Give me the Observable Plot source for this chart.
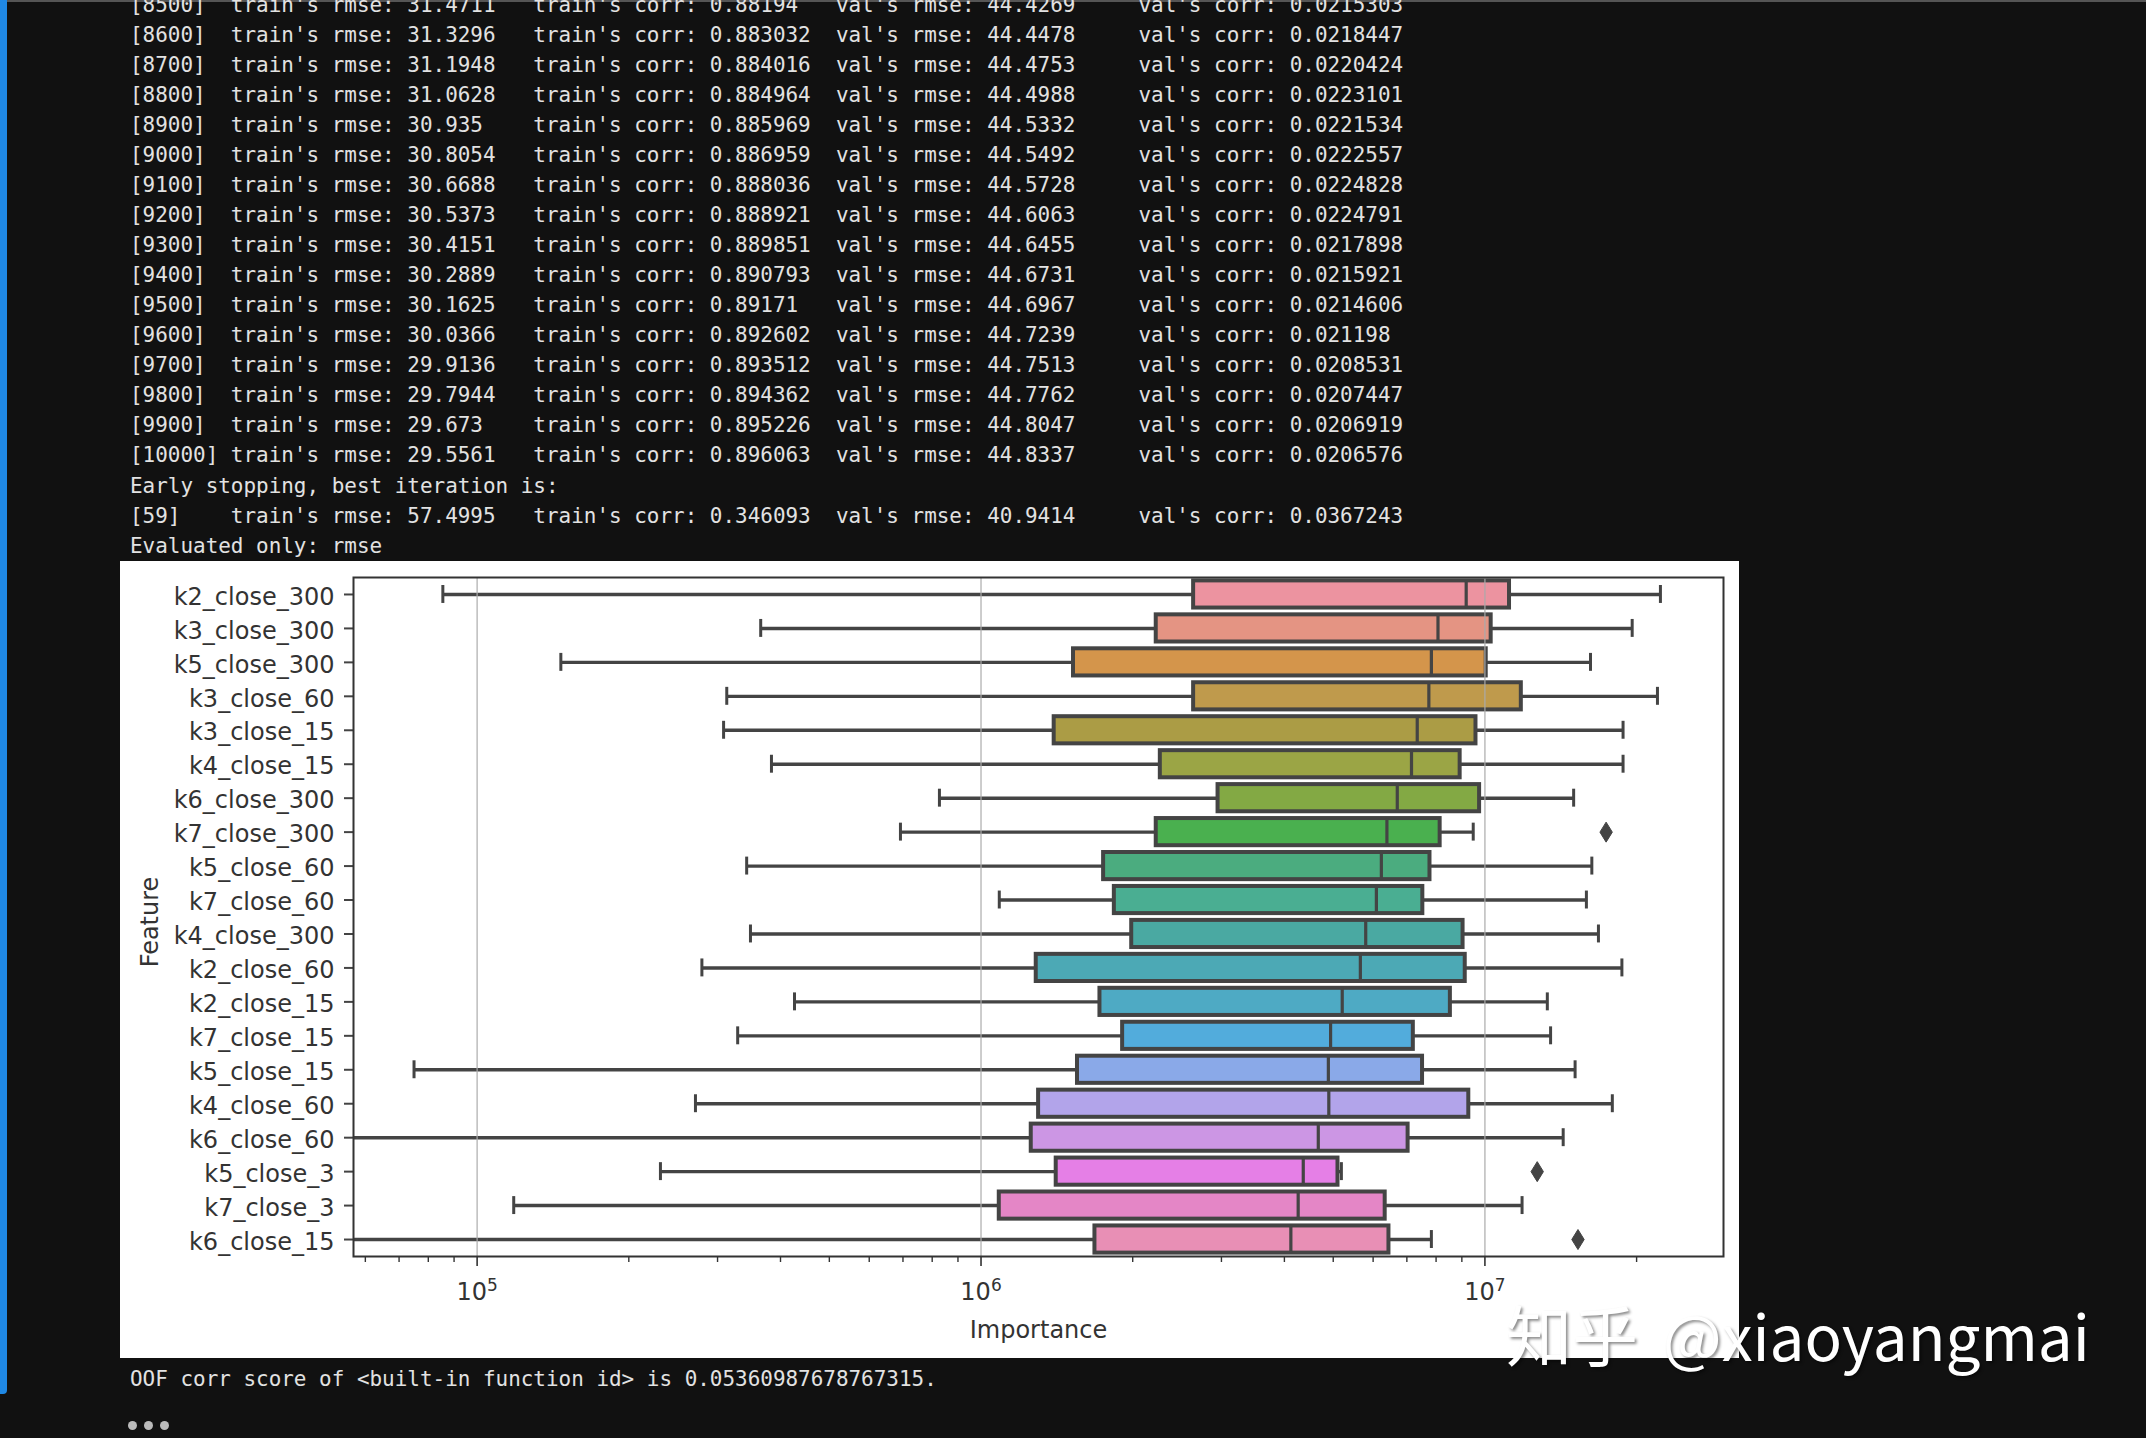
<!DOCTYPE html>
<html>
<head>
<meta charset="utf-8">
<script src="https://cdn.jsdelivr.net/npm/d3@7"></script>
<script src="https://cdn.jsdelivr.net/npm/@observablehq/plot@0.6"></script>
<style>
html,body{margin:0;padding:0;background:#111;width:2146px;height:1438px;overflow:hidden}
#page{position:relative;width:2146px;height:1438px;background:#111;overflow:hidden}
#topline{position:absolute;left:0;top:0;width:2146px;height:2px;background:#555}
#bar{position:absolute;left:0;top:-10px;width:7px;height:1404px;background:#1f88e5;border-radius:0 0 4px 0}
.log{position:absolute;left:130px;margin:0;color:#e2e2e2;font-family:"DejaVu Sans Mono",monospace;font-size:20.94px;line-height:30.03px;white-space:pre}
#log1{top:-10px}
#log2{top:1364px}
#panel{position:absolute;left:120px;top:561px;width:1619px;height:797px;background:#fff}
#panel svg{display:block}
#dots{position:absolute;left:128px;top:1421px;display:flex;gap:7px}
#dots i{display:block;width:9px;height:9px;border-radius:50%;background:#bbb}
#mark{position:absolute;left:1506px;top:1287px;color:#fff;font-family:"Noto Sans CJK SC","Noto Sans",sans-serif;font-size:62px;line-height:90px;white-space:pre;text-shadow:2px 2px 3px rgba(0,0,0,.45)}
#mark span{font-size:66px;margin-right:25px}
</style>
</head>
<body>
<div id="page">
  <div id="topline"></div>
  <div id="bar"></div>
  <pre id="log1" class="log"></pre>
  <div id="panel"></div>
  <pre id="log2" class="log"></pre>
  <div id="dots"><i></i><i></i><i></i></div>
  <div id="mark"></div>
</div>
<script>
const logLines = [
"[8500]  train's rmse: 31.4711   train's corr: 0.88194   val's rmse: 44.4269     val's corr: 0.0215303",
"[8600]  train's rmse: 31.3296   train's corr: 0.883032  val's rmse: 44.4478     val's corr: 0.0218447",
"[8700]  train's rmse: 31.1948   train's corr: 0.884016  val's rmse: 44.4753     val's corr: 0.0220424",
"[8800]  train's rmse: 31.0628   train's corr: 0.884964  val's rmse: 44.4988     val's corr: 0.0223101",
"[8900]  train's rmse: 30.935    train's corr: 0.885969  val's rmse: 44.5332     val's corr: 0.0221534",
"[9000]  train's rmse: 30.8054   train's corr: 0.886959  val's rmse: 44.5492     val's corr: 0.0222557",
"[9100]  train's rmse: 30.6688   train's corr: 0.888036  val's rmse: 44.5728     val's corr: 0.0224828",
"[9200]  train's rmse: 30.5373   train's corr: 0.888921  val's rmse: 44.6063     val's corr: 0.0224791",
"[9300]  train's rmse: 30.4151   train's corr: 0.889851  val's rmse: 44.6455     val's corr: 0.0217898",
"[9400]  train's rmse: 30.2889   train's corr: 0.890793  val's rmse: 44.6731     val's corr: 0.0215921",
"[9500]  train's rmse: 30.1625   train's corr: 0.89171   val's rmse: 44.6967     val's corr: 0.0214606",
"[9600]  train's rmse: 30.0366   train's corr: 0.892602  val's rmse: 44.7239     val's corr: 0.021198",
"[9700]  train's rmse: 29.9136   train's corr: 0.893512  val's rmse: 44.7513     val's corr: 0.0208531",
"[9800]  train's rmse: 29.7944   train's corr: 0.894362  val's rmse: 44.7762     val's corr: 0.0207447",
"[9900]  train's rmse: 29.673    train's corr: 0.895226  val's rmse: 44.8047     val's corr: 0.0206919",
"[10000] train's rmse: 29.5561   train's corr: 0.896063  val's rmse: 44.8337     val's corr: 0.0206576",
"Early stopping, best iteration is:",
"[59]    train's rmse: 57.4995   train's corr: 0.346093  val's rmse: 40.9414     val's corr: 0.0367243",
"Evaluated only: rmse"
];
const oofLine = "OOF corr score of <built-in function id> is 0.05360987678767315.";
const watermarkCjk = "知乎";
const watermarkName = "@xiaoyangmai";

const features = ["k2_close_300","k3_close_300","k5_close_300","k3_close_60","k3_close_15","k4_close_15","k6_close_300","k7_close_300","k5_close_60","k7_close_60","k4_close_300","k2_close_60","k2_close_15","k7_close_15","k5_close_15","k4_close_60","k6_close_60","k5_close_3","k7_close_3","k6_close_15"];
const whiskerLow = [85500,365400,146600,312900,308400,383800,826900,692000,342700,1087000,348700,279300,426400,328900,74950,271200,50000,231100,118200,50000];
const q1 = [2642000,2227000,1526000,2642000,1397000,2269000,2954000,2227000,1751000,1839000,1991000,1287000,1722000,1910000,1554000,1301000,1258000,1410000,1087000,1683000];
const median = [9180000,8070000,7830000,7740000,7340000,7150000,6700000,6390000,6230000,6090000,5800000,5660000,5210000,4940000,4890000,4900000,4670000,4360000,4260000,4120000];
const q3 = [11190000,10290000,10060000,11810000,9600000,8930000,9760000,8150000,7780000,7530000,9050000,9140000,8540000,7210000,7520000,9290000,7040000,5110000,6340000,6450000];
const whiskerHigh = [22300000,19600000,16200000,22000000,18800000,18800000,15000000,9480000,16300000,15900000,16800000,18700000,13300000,13500000,15100000,17900000,14300000,5190000,11850000,7830000];
const outlierFeatures = ["k7_close_300","k5_close_3","k6_close_15"];
const outlierValues = [17400000,12700000,15300000];
const boxColors = ["#ec93a0","#e49483","#d4954b","#bf9a4c","#ab9c45","#9ba545","#83a944","#4ab04f","#4bac7f","#4aae92","#4aa9a2","#4ca9b5","#4eaac4","#52acdc","#8aa9e8","#b2a4ea","#cc96e4","#e57fe6","#e486c6","#e88fb5"];
const majorTicks = [1e5,1e6,1e7];
const minorTicks = [6e4,7e4,8e4,9e4,2e5,3e5,4e5,5e5,6e5,7e5,8e5,9e5,2e6,3e6,4e6,5e6,6e6,7e6,8e6,9e6,2e7];
const tickExponents = {100000:"5",1000000:"6",10000000:"7"};
const xDomain = [56840,29750000];

const rows = features.map((feature,i)=>({feature,low:whiskerLow[i],q1:q1[i],median:median[i],q3:q3[i],high:whiskerHigh[i]}));
const outliers = outlierFeatures.map((feature,i)=>({feature,value:outlierValues[i]}));
const ink = "#444";

const thinDiamond = {draw(ctx,size){
  const r = Math.sqrt(size/Math.PI);
  ctx.moveTo(0,-r); ctx.lineTo(r*0.62,0); ctx.lineTo(0,r); ctx.lineTo(-r*0.62,0); ctx.closePath();
}};

document.getElementById("log1").textContent = logLines.join("\n");
document.getElementById("log2").textContent = oofLine;
const markEl = document.getElementById("mark");
const cjkEl = document.createElement("span");
cjkEl.textContent = watermarkCjk;
markEl.append(cjkEl, watermarkName);

const chart = Plot.plot({
  width:1619, height:797,
  marginLeft:233, marginRight:16, marginTop:16, marginBottom:102,
  style:{background:"#fff",fontFamily:"DejaVu Sans",fontSize:"24px",color:"#333"},
  x:{type:"log",domain:xDomain},
  y:{domain:features,padding:0,round:false},
  color:{type:"ordinal",domain:features,range:boxColors},
  marks:[
    Plot.ruleY(rows,{y:"feature",x1:"low",x2:"q1",stroke:ink,strokeWidth:3.4,clip:"frame"}),
    Plot.ruleY(rows,{y:"feature",x1:"q3",x2:"high",stroke:ink,strokeWidth:3.4,clip:"frame"}),
    Plot.tickX(rows,{x:"low",y:"feature",stroke:ink,strokeWidth:3,insetTop:8,insetBottom:8,clip:"frame"}),
    Plot.tickX(rows,{x:"high",y:"feature",stroke:ink,strokeWidth:3,insetTop:8,insetBottom:8}),
    Plot.barX(rows,{x1:"q1",x2:"q3",y:"feature",fill:"feature",stroke:ink,strokeWidth:4,insetTop:3.4,insetBottom:3.4}),
    Plot.ruleX(majorTicks,{stroke:"#aaa",strokeOpacity:0.85,strokeWidth:1.4}),
    Plot.tickX(rows,{x:"median",y:"feature",stroke:ink,strokeWidth:3.2,insetTop:3.4,insetBottom:3.4}),
    Plot.dot(outliers,{x:"value",y:"feature",r:10,symbol:thinDiamond,fill:ink,stroke:ink,strokeWidth:1}),
    Plot.axisY({tickSize:9,tickPadding:10,fontSize:24,label:"Feature",labelAnchor:"center",labelArrow:"none",labelOffset:213,stroke:ink,strokeWidth:2}),
    Plot.axisX({ticks:minorTicks,tickSize:6,tickFormat:()=>"",label:null,strokeWidth:1.4}),
    Plot.axisX({ticks:majorTicks,tickSize:10,tickPadding:16,fontSize:24,tickFormat:d=>"10"+tickExponents[d],label:"Importance",labelAnchor:"center",labelArrow:"none",labelOffset:81,strokeWidth:1.6}),
    Plot.frame({stroke:"#333",strokeWidth:2})
  ]
});
// real superscripts on the decade tick labels, small nudges to the label text
d3.select(chart).selectAll("text").each(function(){
  const s = this.textContent;
  if (/_close_/.test(s)) { this.setAttribute("dy","2.5"); return; }
  if (s === "Feature") { this.setAttribute("dx","-5"); return; }
  if (!/^10[567]$/.test(s)) return;
  const holder = this.querySelector("tspan") || this;
  holder.textContent = "10";
  const sup = document.createElementNS("http://www.w3.org/2000/svg","tspan");
  sup.setAttribute("dy","-9");
  sup.setAttribute("font-size","17");
  sup.textContent = s.slice(2);
  holder.append(sup);
});
document.getElementById("panel").append(chart);
</script>
</body>
</html>
